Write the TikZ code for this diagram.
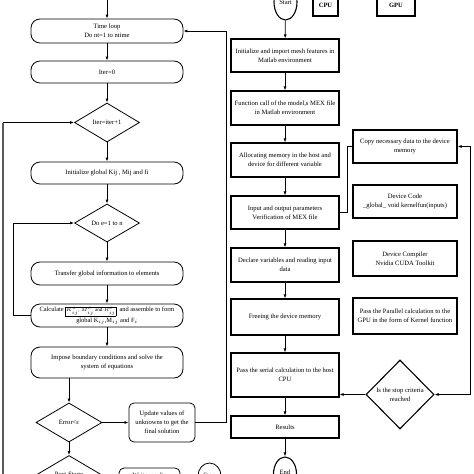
\documentclass[tikz,border=0pt]{standalone}
\usepackage{fontspec}
\setmainfont{Liberation Serif}
\usetikzlibrary{shapes.geometric,arrows.meta}
\begin{document}
\begin{tikzpicture}[x=1pt,y=-1pt,
  txt/.style={font=\fontsize{6.6}{9.2}\selectfont,align=center,inner sep=1pt},
  rbox/.style={txt,draw,line width=0.8pt,rounded corners=9pt,minimum width=152pt},
  dia/.style={txt,draw,line width=0.8pt,diamond,inner sep=0pt},
  sbox/.style={txt,draw,line width=1.1pt,minimum width=108pt},
  gbox/.style={txt,draw,line width=1.1pt,minimum width=104pt},
  arr/.style={-{Latex[length=4pt,width=3pt]},line width=0.8pt},
  ln/.style={line width=0.8pt}]
\useasboundingbox (0,0) rectangle (474,474);
\clip (0,0) rectangle (474,474);
% ---------- left column ----------
\node[rbox,minimum height=24pt] (tl) at (107,31) {Time loop\\Do nt=1 to ntime};
\node[rbox,minimum height=22pt] (it0) at (107,72) {Iter=0};
\node[dia,minimum width=65pt,minimum height=39pt] (d1) at (107,122.5) {Iter=iter+1};
\node[rbox,minimum height=22pt] (ini) at (107,173) {Initialize global Kij , Mij and fi};
\node[dia,minimum width=65pt,minimum height=38pt] (d2) at (107,223) {Do e=1 to n};
\node[rbox,minimum height=23pt] (tr) at (107,273.5) {Transfer global information to elements};
\node[rbox,minimum height=23pt,font=\fontsize{6.4}{7.5}\selectfont] (calc) at (107,315.5) {Calculate {\setlength{\fboxsep}{0.5pt}\fbox{\fontsize{5.2}{5.5}\selectfont$K^e_{ij}$, $M^e_{ij}$ and $R^e_{ij}$}}\ \ and assemble to form\\global K$_{ij}$,M$_{ij}$ and F$_i$};
\node[rbox,minimum height=31pt] (imp) at (107,362.5) {Impose boundary conditions and solve the\\system of equations};
\node[dia,minimum width=66pt,minimum height=39pt] (err) at (69,422.5) {Error<ε};
\node[txt,draw,line width=0.8pt,rounded corners=5pt,minimum width=66pt,minimum height=39pt] (upd) at (162,422.5) {Update values of\\unknowns to get the\\final solution};
\node[dia,minimum width=66pt,minimum height=39pt] (post) at (69,475) {\raisebox{2pt}{Post-Stage}};
\node[txt,draw,line width=0.8pt,rounded corners=5pt,minimum width=61pt,minimum height=16pt] (wr) at (149.5,476) {\raisebox{2pt}{Write results}};
\node[txt,draw,line width=0.8pt,ellipse,minimum width=23pt,minimum height=26pt] (stp) at (209.5,476) {\raisebox{2pt}{Stop}};
\coordinate (top) at (107,0);
\coordinate (lb) at (3,480);
\coordinate (lc) at (3,122.5);
\coordinate (ra) at (226,422.5);
\coordinate (rb) at (226,31);
\coordinate (ca) at (13,315.5);
\coordinate (cb) at (13,223);
\draw[arr] (top) -- (tl);
\draw[arr] (tl) -- (it0);
\draw[arr] (it0) -- (d1);
\draw[arr] (d1) -- (ini);
\draw[arr] (ini) -- (d2);
\draw[arr] (d2) -- (tr);
\draw[arr] (tr) -- (calc);
\draw[arr] (calc) -- (imp);
\draw[arr] (imp.south -| err.north) -- (err.north);
\draw[arr] (err) -- (upd);
\draw[arr] (err) -- (post);
\draw[arr] (post.east |- wr.west) -- (wr.west);
\draw[arr] (wr) -- (stp);
\draw[arr] (upd.east) -- (ra) -- (rb) -- (tl.east);
\draw[arr] (calc.west) -- (ca) -- (cb) -- (d2.west);
\draw[line width=1.6pt,black!65] (lb) -- (lc);
\draw[arr] (lc) -- (d1.west);
% ---------- right panel ----------
\node[txt,draw,line width=1.1pt,ellipse,minimum width=23pt,minimum height=36pt] (st) at (285.5,2) {\raisebox{-6pt}{Start}};
\node[txt,draw,line width=1.1pt,minimum width=25pt,minimum height=22pt,font=\fontsize{6.5}{8}\selectfont\bfseries] (cpu) at (325.5,5) {\raisebox{-1pt}{CPU}};
\node[txt,draw,line width=1.1pt,minimum width=38pt,minimum height=22pt,font=\fontsize{6.5}{8}\selectfont\bfseries] (gpu) at (396,5) {\raisebox{-1pt}{GPU}};
\node[sbox,minimum height=33pt] (b1) at (285,55.5) {Initialize and import mesh features in\\Matlab environment};
\node[sbox,minimum height=34pt] (b2) at (285,108) {Function call of the model,s MEX file\\in Matlab environment};
\node[sbox,minimum height=34pt] (b3) at (285,160) {Allocating memory in the host and\\device for different variable};
\node[sbox,minimum height=33pt] (b4) at (285,212.5) {Input and output parameters\\Verification of MEX file};
\node[sbox,minimum height=34pt] (b5) at (285,265) {Declare variables and reading input\\data};
\node[sbox,minimum height=36pt] (b6) at (285,317) {Freeing the device memory};
\node[sbox,minimum height=44pt] (b7) at (285,375) {Pass the serial calculation to the host\\CPU};
\node[sbox,minimum height=22pt] (b8) at (285,427) {Results};
\node[txt,draw,line width=1.1pt,ellipse,minimum width=23pt,minimum height=34pt] (en) at (285,474) {\raisebox{4pt}{End}};
\node[gbox,minimum height=33pt] (g1) at (405,146.5) {Copy necessary data to the device\\memory};
\node[gbox,minimum height=33pt] (g2) at (405,201.5) {Device Code\\\_global\_ void kernelfun(inputs)};
\node[gbox,minimum height=35pt] (g3) at (405,258.5) {Device Compiler\\Nvidia CUDA Toolkit};
\node[gbox,minimum height=36pt] (g4) at (405,316) {Pass the Parallel calculation to the\\GPU in the form of Kernel function};
\node[dia,line width=1.1pt,minimum width=68pt,minimum height=69pt] (sd) at (400,394.5) {Is the stop criteria\\reached};
\coordinate (va) at (470,146.5);
\coordinate (vb) at (470,394.5);
\coordinate (ia) at (347,212.5);
\coordinate (ib) at (347,146.5);
\draw[arr] (st) -- (b1);
\draw[arr] (b1) -- (b2);
\draw[arr] (b2) -- (b3);
\draw[arr] (b3) -- (b4);
\draw[arr] (b4) -- (b5);
\draw[arr] (b5) -- (b6);
\draw[arr] (b6) -- (b7);
\draw[arr] (b7) -- (b8);
\draw[arr] (b8) -- (en);
\draw[arr,{Latex[length=4pt,width=3pt]}-{Latex[length=4pt,width=3pt]}] (g1.east) -- (va) -- (vb) -- (sd.east);
\draw[arr] (sd.west) -- (sd.west -| b7.east);
\draw[ln] (b4.east) -- (ia) -- (ib) -- (g1.west);
\end{tikzpicture}
\end{document}
